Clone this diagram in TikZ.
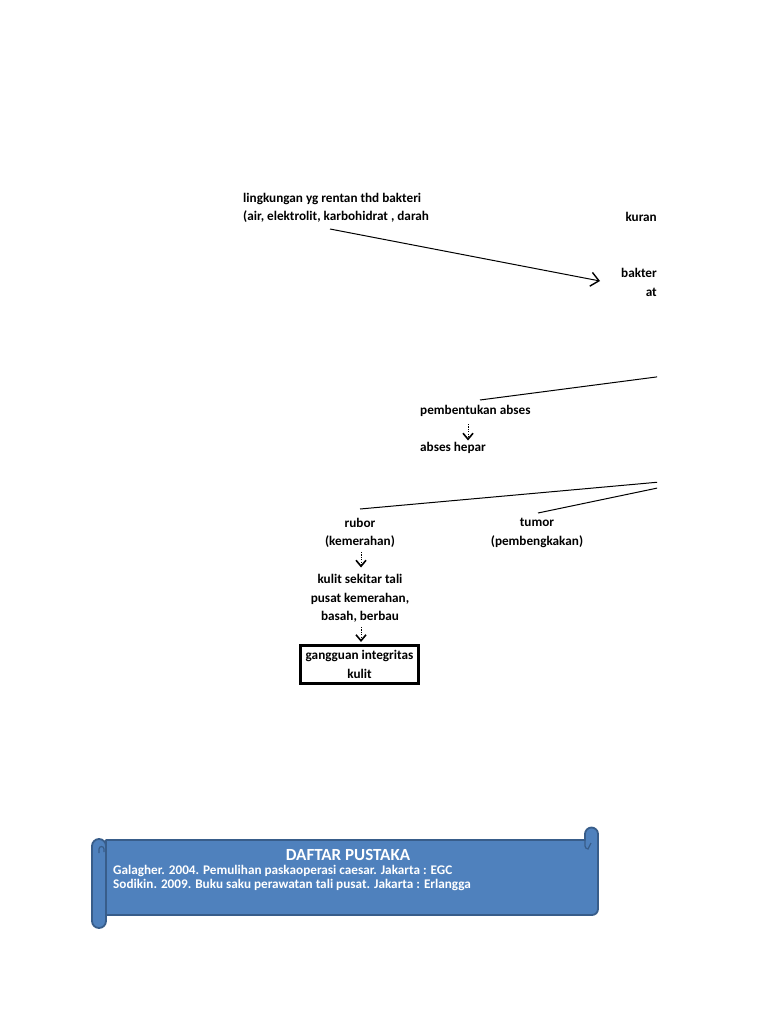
\documentclass[tikz,border=0pt]{standalone}
\usepackage{fontspec}
\setmainfont{Carlito}
\usetikzlibrary{arrows.meta}
\definecolor{scrollfill}{HTML}{4F81BD}
\definecolor{scrolldraw}{HTML}{385D8A}
\begin{document}
\begin{tikzpicture}[x=1pt,y=-1pt,
  txt/.style={font=\bfseries\fontsize{13.2}{18.5}\selectfont, inner sep=0pt, align=center},
  bigarr/.style={line width=1pt, -{Straight Barb[length=8pt,width=14pt,line width=1.4pt]}},
  smallarr/.style={line width=0.6pt, dash pattern=on 1.2pt off 1.2pt, -{Straight Barb[length=6pt,width=10pt,line width=1.6pt]}},
  link/.style={line width=1pt},
  scroll/.style={fill=scrollfill, draw=scrolldraw, line width=1.8pt, line join=round},
  scrolltxt/.style={text=white, inner sep=0pt, font=\bfseries\fontsize{13.2}{14.5}\selectfont}]
\useasboundingbox (0,0) rectangle (768,1024);

\begin{scope}
\clip (0,0) rectangle (657,1024);
% texts
\node[txt, anchor=west, align=left] (ling) at (243,208) {lingkungan yg rentan thd bakteri\\(air, elektrolit, karbohidrat , darah};
\node[txt, anchor=east] (kuran) at (657,217) {kuran};
\node[txt, anchor=east, align=right] (bakter) at (657,282.5) {bakter\\at};
\node[txt, anchor=west] (pemb) at (420,411) {pembentukan abses};
\node[txt, anchor=west] (hepar) at (420,448) {abses hepar};
\node[txt] (rubor) at (360,533) {rubor\\(kemerahan)};
\node[txt] (tumor) at (537,533) {tumor\\(pembengkakan)};
\node[txt] (kulit) at (360,598.5) {kulit sekitar tali\\pusat kemerahan,\\basah, berbau};
\node[txt, draw, line width=2.2pt, minimum width=118pt, minimum height=38pt] (gang) at (359.5,664.5) {gangguan integritas\\kulit};

% coordinates
\coordinate (a1s) at (330,229);
\coordinate (a1e) at (600,281);
\coordinate (l1s) at (660,376.5);
\coordinate (l1e) at (480,400);
\coordinate (l2s) at (660,482);
\coordinate (l2e) at (360,509);
\coordinate (l3s) at (660,487.5);
\coordinate (l3e) at (538,513);

\draw[bigarr] (a1s) -- (a1e);
\draw[link] (l1s) -- (l1e);
\draw[link] (l2s) -- (l2e);
\draw[link] (l3s) -- (l3e);

\draw[smallarr] (468,424) -- (468,440.5);
\draw[smallarr] (361,552) -- (361,567.5);
\draw[smallarr] (361,627) -- (361,642);
\end{scope}

% scroll
\draw[scroll] (106,840) -- (585,840) -- (585,834) arc[start angle=180, end angle=360, radius=6.5]
  -- (598,909) arc[start angle=0, end angle=90, radius=6] -- (106,915) -- cycle;
\draw[scrolldraw, line width=1.2pt] (585,840) -- (585,846) arc[start angle=180, end angle=90, radius=3] -- (591,843);
\draw[scroll] (92,846) arc[start angle=180, end angle=360, radius=7] -- (106,921)
  arc[start angle=0, end angle=180, radius=7] -- cycle;
\draw[scrolldraw, line width=1.2pt] (99,853) -- (99,849) arc[start angle=180, end angle=360, radius=2.5] -- (104,852);

\node[scrolltxt, font=\bfseries\fontsize{17}{18}\selectfont] (dp) at (348,855) {DAFTAR PUSTAKA};
\node[scrolltxt, anchor=west, align=left] (refs) at (113,878) {Galagher. 2004. Pemulihan paskaoperasi caesar. Jakarta : EGC\\Sodikin. 2009. Buku saku perawatan tali pusat. Jakarta : Erlangga};
\end{tikzpicture}
\end{document}
